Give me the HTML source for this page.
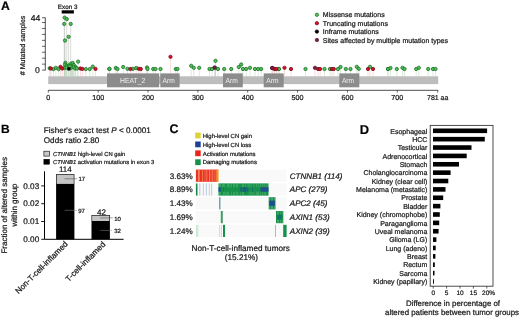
<!DOCTYPE html>
<html lang="en"><head><meta charset="utf-8"><title>Figure</title>
<style>
html,body{margin:0;padding:0;background:#fff;}
body{width:520px;height:318px;overflow:hidden;}
svg{display:block;filter:blur(0.35px);font-family:'Liberation Sans', Arial, sans-serif;}
text{stroke:#222;stroke-width:.22px;}
text[fill="#f2f2f2"]{stroke:none;}
</style></head><body>
<svg width="520" height="318" viewBox="0 0 520 318" font-family="Liberation Sans, Arial, sans-serif" text-rendering="geometricPrecision">
<rect width="520" height="318" fill="#fff"/>
<g id="panelA">
<text x="1.0" y="9.8" font-size="12.2" text-anchor="start" font-weight="bold" fill="#000">A</text>
<text x="67.6" y="8.9" font-size="6.3" text-anchor="middle" fill="#111">Exon 3</text>
<rect x="61.7" y="10.3" width="12.2" height="3.2" fill="#000"/>
<path d="M45.3 17.44V70.40" stroke="#222" stroke-width="0.8" fill="none"/>
<path d="M42 70.10H45.3" stroke="#222" stroke-width="0.7"/>
<path d="M42 64.15H45.3" stroke="#222" stroke-width="0.7"/>
<path d="M42 58.20H45.3" stroke="#222" stroke-width="0.7"/>
<path d="M42 52.25H45.3" stroke="#222" stroke-width="0.7"/>
<path d="M42 46.30H45.3" stroke="#222" stroke-width="0.7"/>
<path d="M42 40.35H45.3" stroke="#222" stroke-width="0.7"/>
<path d="M42 34.40H45.3" stroke="#222" stroke-width="0.7"/>
<path d="M42 28.45H45.3" stroke="#222" stroke-width="0.7"/>
<path d="M42 22.50H45.3" stroke="#222" stroke-width="0.7"/>
<path d="M42 17.74H45.3" stroke="#222" stroke-width="0.7"/>
<text x="40.3" y="21.2" font-size="8.6" text-anchor="end" fill="#111">44</text>
<text x="39.8" y="73.3" font-size="8.6" text-anchor="end" fill="#111">0</text>
<text transform="translate(24.7,45.4) rotate(-90)" font-size="7.05" text-anchor="middle" fill="#111"># Mutated samples</text>
<path d="M48.2 90.3H438.2" stroke="#222" stroke-width="0.8" fill="none"/>
<path d="M48.3 90.3V92.6" stroke="#222" stroke-width="0.7"/>
<path d="M98.2 90.3V92.6" stroke="#222" stroke-width="0.7"/>
<path d="M148.0 90.3V92.6" stroke="#222" stroke-width="0.7"/>
<path d="M197.9 90.3V92.6" stroke="#222" stroke-width="0.7"/>
<path d="M247.7 90.3V92.6" stroke="#222" stroke-width="0.7"/>
<path d="M297.6 90.3V92.6" stroke="#222" stroke-width="0.7"/>
<path d="M347.5 90.3V92.6" stroke="#222" stroke-width="0.7"/>
<path d="M397.3 90.3V92.6" stroke="#222" stroke-width="0.7"/>
<path d="M437.7 90.3V92.6" stroke="#222" stroke-width="0.7"/>
<text x="48.3" y="100.2" font-size="7.2" text-anchor="middle" fill="#111">0</text>
<text x="98.16" y="100.2" font-size="7.2" text-anchor="middle" fill="#111">100</text>
<text x="148.01999999999998" y="100.2" font-size="7.2" text-anchor="middle" fill="#111">200</text>
<text x="197.88" y="100.2" font-size="7.2" text-anchor="middle" fill="#111">300</text>
<text x="247.74" y="100.2" font-size="7.2" text-anchor="middle" fill="#111">400</text>
<text x="297.59999999999997" y="100.2" font-size="7.2" text-anchor="middle" fill="#111">500</text>
<text x="347.46" y="100.2" font-size="7.2" text-anchor="middle" fill="#111">600</text>
<text x="397.32" y="100.2" font-size="7.2" text-anchor="middle" fill="#111">700</text>
<text x="427" y="100.2" font-size="7.0" text-anchor="start" fill="#111">781 aa</text>
<rect x="48.2" y="76.3" width="390.0" height="7.8" fill="#bdbdbd"/>
<path d="M64.6 17.6V76.8" stroke="#b8bcb8" stroke-width="0.5"/>
<path d="M66.8 19.1V76.8" stroke="#b8bcb8" stroke-width="0.5"/>
<path d="M64.2 23.9V76.8" stroke="#b8bcb8" stroke-width="0.5"/>
<path d="M70.7 23.9V76.8" stroke="#b8bcb8" stroke-width="0.5"/>
<path d="M68.6 36.8V76.8" stroke="#b8bcb8" stroke-width="0.5"/>
<path d="M65.0 40.5V76.8" stroke="#b8bcb8" stroke-width="0.5"/>
<path d="M78.1 61.6V76.8" stroke="#b8bcb8" stroke-width="0.5"/>
<path d="M65.4 62.8V76.8" stroke="#b9d4b9" stroke-width="0.5"/>
<path d="M72.5 64.2V76.8" stroke="#b9d4b9" stroke-width="0.5"/>
<path d="M65.0 64.6V76.8" stroke="#b9d4b9" stroke-width="0.5"/>
<path d="M66.8 65.8V76.8" stroke="#b9d4b9" stroke-width="0.5"/>
<path d="M69.0 65.4V76.8" stroke="#b9d4b9" stroke-width="0.5"/>
<path d="M70.8 63.8V76.8" stroke="#b9d4b9" stroke-width="0.5"/>
<path d="M72.6 63.0V76.8" stroke="#b9d4b9" stroke-width="0.5"/>
<path d="M73.8 65.0V76.8" stroke="#b9d4b9" stroke-width="0.5"/>
<path d="M75.4 66.8V76.8" stroke="#b9d4b9" stroke-width="0.5"/>
<path d="M71.5 66.2V76.8" stroke="#b9d4b9" stroke-width="0.5"/>
<path d="M49.7 68.2V76.8" stroke="#b9d4b9" stroke-width="0.5"/>
<path d="M53.5 69.1V76.8" stroke="#b9d4b9" stroke-width="0.5"/>
<path d="M55.9 67.8V76.8" stroke="#b9d4b9" stroke-width="0.5"/>
<path d="M58.6 69.1V76.8" stroke="#b9d4b9" stroke-width="0.5"/>
<path d="M64.6 68.0V76.8" stroke="#b9d4b9" stroke-width="0.5"/>
<path d="M66.6 67.5V76.8" stroke="#b9d4b9" stroke-width="0.5"/>
<path d="M71.2 67.8V76.8" stroke="#b9d4b9" stroke-width="0.5"/>
<path d="M73.6 67.2V76.8" stroke="#b9d4b9" stroke-width="0.5"/>
<path d="M75.2 68.5V76.8" stroke="#b9d4b9" stroke-width="0.5"/>
<path d="M70.0 66.5V76.8" stroke="#b9d4b9" stroke-width="0.5"/>
<path d="M77.0 68.5V76.8" stroke="#b9d4b9" stroke-width="0.5"/>
<path d="M85.8 69.1V76.8" stroke="#b9d4b9" stroke-width="0.5"/>
<path d="M89.8 69.1V76.8" stroke="#b9d4b9" stroke-width="0.5"/>
<path d="M92.8 66.6V76.8" stroke="#b9d4b9" stroke-width="0.5"/>
<path d="M50.8 68.5V76.8" stroke="#f3b9bc" stroke-width="0.5"/>
<path d="M60.5 66.8V76.8" stroke="#f3b9bc" stroke-width="0.5"/>
<path d="M62.2 68.5V76.8" stroke="#f3b9bc" stroke-width="0.5"/>
<path d="M80.4 68.5V76.8" stroke="#f3b9bc" stroke-width="0.5"/>
<path d="M82.4 68.9V76.8" stroke="#f3b9bc" stroke-width="0.5"/>
<path d="M95.5 68.9V76.8" stroke="#f3b9bc" stroke-width="0.5"/>
<path d="M109.3 68.9V76.8" stroke="#b9d4b9" stroke-width="0.5"/>
<path d="M109.5 68.8V76.8" stroke="#b9d4b9" stroke-width="0.5"/>
<path d="M115.8 68.0V76.8" stroke="#b9d4b9" stroke-width="0.5"/>
<path d="M123.2 67.0V76.8" stroke="#b9d4b9" stroke-width="0.5"/>
<path d="M127.5 68.8V76.8" stroke="#b9d4b9" stroke-width="0.5"/>
<path d="M130.5 69.0V76.8" stroke="#f3b9bc" stroke-width="0.5"/>
<path d="M133.0 68.8V76.8" stroke="#b9d4b9" stroke-width="0.5"/>
<path d="M136.2 68.0V76.8" stroke="#b9d4b9" stroke-width="0.5"/>
<path d="M138.8 68.8V76.8" stroke="#f3b9bc" stroke-width="0.5"/>
<path d="M140.8 69.0V76.8" stroke="#f3b9bc" stroke-width="0.5"/>
<path d="M147.0 67.5V76.8" stroke="#b9d4b9" stroke-width="0.5"/>
<path d="M147.5 69.0V76.8" stroke="#b9d4b9" stroke-width="0.5"/>
<path d="M153.2 69.0V76.8" stroke="#b9d4b9" stroke-width="0.5"/>
<path d="M155.5 69.0V76.8" stroke="#b9d4b9" stroke-width="0.5"/>
<path d="M117.5 69.0V76.8" stroke="#b9d4b9" stroke-width="0.5"/>
<path d="M160.5 69.0V76.8" stroke="#b9d4b9" stroke-width="0.5"/>
<path d="M170.5 56.8V76.8" stroke="#f3b9bc" stroke-width="0.5"/>
<path d="M175.8 69.0V76.8" stroke="#b9d4b9" stroke-width="0.5"/>
<path d="M177.5 69.0V76.8" stroke="#b9d4b9" stroke-width="0.5"/>
<path d="M191.2 65.8V76.8" stroke="#b9d4b9" stroke-width="0.5"/>
<path d="M193.8 67.8V76.8" stroke="#b9d4b9" stroke-width="0.5"/>
<path d="M199.2 67.8V76.8" stroke="#b9d4b9" stroke-width="0.5"/>
<path d="M209.5 69.0V76.8" stroke="#b9d4b9" stroke-width="0.5"/>
<path d="M212.0 69.0V76.8" stroke="#b9d4b9" stroke-width="0.5"/>
<path d="M215.5 60.8V76.8" stroke="#b8bcb8" stroke-width="0.5"/>
<path d="M214.5 67.5V76.8" stroke="#d4b4c4" stroke-width="0.5"/>
<path d="M215.5 68.0V76.8" stroke="#b9d4b9" stroke-width="0.5"/>
<path d="M218.0 69.0V76.8" stroke="#b9d4b9" stroke-width="0.5"/>
<path d="M224.2 69.0V76.8" stroke="#b9d4b9" stroke-width="0.5"/>
<path d="M231.2 69.0V76.8" stroke="#b9d4b9" stroke-width="0.5"/>
<path d="M238.8 67.0V76.8" stroke="#b9d4b9" stroke-width="0.5"/>
<path d="M241.2 64.5V76.8" stroke="#b9d4b9" stroke-width="0.5"/>
<path d="M243.0 69.0V76.8" stroke="#b9d4b9" stroke-width="0.5"/>
<path d="M246.2 69.0V76.8" stroke="#b9d4b9" stroke-width="0.5"/>
<path d="M250.0 67.8V76.8" stroke="#b9d4b9" stroke-width="0.5"/>
<path d="M255.0 69.0V76.8" stroke="#b9d4b9" stroke-width="0.5"/>
<path d="M258.2 69.0V76.8" stroke="#b9d4b9" stroke-width="0.5"/>
<path d="M261.2 69.0V76.8" stroke="#b9d4b9" stroke-width="0.5"/>
<path d="M272.5 68.0V76.8" stroke="#d4b4c4" stroke-width="0.5"/>
<path d="M275.0 69.0V76.8" stroke="#b9d4b9" stroke-width="0.5"/>
<path d="M278.8 69.0V76.8" stroke="#b9d4b9" stroke-width="0.5"/>
<path d="M272.0 68.0V76.8" stroke="#d4b4c4" stroke-width="0.5"/>
<path d="M274.5 69.0V76.8" stroke="#f3b9bc" stroke-width="0.5"/>
<path d="M276.5 69.0V76.8" stroke="#f3b9bc" stroke-width="0.5"/>
<path d="M279.0 69.0V76.8" stroke="#b9d4b9" stroke-width="0.5"/>
<path d="M284.5 67.8V76.8" stroke="#f3b9bc" stroke-width="0.5"/>
<path d="M291.0 69.0V76.8" stroke="#f3b9bc" stroke-width="0.5"/>
<path d="M305.5 69.0V76.8" stroke="#b9d4b9" stroke-width="0.5"/>
<path d="M315.0 67.8V76.8" stroke="#d4b4c4" stroke-width="0.5"/>
<path d="M318.0 69.0V76.8" stroke="#f3b9bc" stroke-width="0.5"/>
<path d="M320.0 69.0V76.8" stroke="#f3b9bc" stroke-width="0.5"/>
<path d="M324.5 69.0V76.8" stroke="#b9d4b9" stroke-width="0.5"/>
<path d="M330.0 69.0V76.8" stroke="#b9d4b9" stroke-width="0.5"/>
<path d="M332.0 69.0V76.8" stroke="#f3b9bc" stroke-width="0.5"/>
<path d="M333.8 69.0V76.8" stroke="#f3b9bc" stroke-width="0.5"/>
<path d="M338.0 69.0V76.8" stroke="#b9d4b9" stroke-width="0.5"/>
<path d="M340.5 67.0V76.8" stroke="#b9d4b9" stroke-width="0.5"/>
<path d="M345.8 69.0V76.8" stroke="#b9d4b9" stroke-width="0.5"/>
<path d="M350.5 69.0V76.8" stroke="#b9d4b9" stroke-width="0.5"/>
<path d="M356.8 66.8V76.8" stroke="#b9d4b9" stroke-width="0.5"/>
<path d="M358.8 68.8V76.8" stroke="#b9d4b9" stroke-width="0.5"/>
<path d="M368.0 69.0V76.8" stroke="#f3b9bc" stroke-width="0.5"/>
<path d="M370.0 66.8V76.8" stroke="#b9d4b9" stroke-width="0.5"/>
<path d="M373.0 69.0V76.8" stroke="#f3b9bc" stroke-width="0.5"/>
<path d="M388.0 69.0V76.8" stroke="#b9d4b9" stroke-width="0.5"/>
<path d="M388.0 69.0V76.8" stroke="#b9d4b9" stroke-width="0.5"/>
<path d="M390.5 68.0V76.8" stroke="#b9d4b9" stroke-width="0.5"/>
<path d="M396.8 69.0V76.8" stroke="#b9d4b9" stroke-width="0.5"/>
<path d="M402.5 67.8V76.8" stroke="#b9d4b9" stroke-width="0.5"/>
<path d="M404.5 69.0V76.8" stroke="#b9d4b9" stroke-width="0.5"/>
<path d="M416.2 69.0V76.8" stroke="#b9d4b9" stroke-width="0.5"/>
<path d="M418.8 67.8V76.8" stroke="#b9d4b9" stroke-width="0.5"/>
<path d="M428.2 69.0V76.8" stroke="#b9d4b9" stroke-width="0.5"/>
<path d="M433.0 69.0V76.8" stroke="#b9d4b9" stroke-width="0.5"/>
<path d="M435.5 69.0V76.8" stroke="#b9d4b9" stroke-width="0.5"/>
<rect x="107" y="73.4" width="52.2" height="13.9" fill="#8c8c8c"/>
<text x="132.6" y="83.3" font-size="7.3" text-anchor="middle" textLength="25.2" lengthAdjust="spacingAndGlyphs" fill="#f2f2f2">HEAT_2</text>
<rect x="160.3" y="73.4" width="19.3" height="13.9" fill="#8c8c8c"/>
<text x="168.64999999999998" y="83.3" font-size="7.3" text-anchor="middle" textLength="12.2" lengthAdjust="spacingAndGlyphs" fill="#f2f2f2">Arm</text>
<rect x="223" y="73.4" width="19.8" height="13.9" fill="#8c8c8c"/>
<text x="231.6" y="83.3" font-size="7.3" text-anchor="middle" textLength="12.2" lengthAdjust="spacingAndGlyphs" fill="#f2f2f2">Arm</text>
<rect x="263.7" y="73.4" width="20.0" height="13.9" fill="#8c8c8c"/>
<text x="272.4" y="83.3" font-size="7.3" text-anchor="middle" textLength="12.2" lengthAdjust="spacingAndGlyphs" fill="#f2f2f2">Arm</text>
<rect x="339.3" y="73.4" width="20.0" height="13.9" fill="#8c8c8c"/>
<text x="348.0" y="83.3" font-size="7.3" text-anchor="middle" textLength="12.2" lengthAdjust="spacingAndGlyphs" fill="#f2f2f2">Arm</text>
<circle cx="64.6" cy="17.6" r="1.65" fill="#54c058" stroke="#1b6e28" stroke-width="0.8"/>
<circle cx="66.8" cy="19.1" r="1.65" fill="#54c058" stroke="#1b6e28" stroke-width="0.8"/>
<circle cx="64.2" cy="23.9" r="1.65" fill="#54c058" stroke="#1b6e28" stroke-width="0.8"/>
<circle cx="70.7" cy="23.9" r="1.65" fill="#54c058" stroke="#1b6e28" stroke-width="0.8"/>
<circle cx="68.6" cy="36.8" r="1.65" fill="#54c058" stroke="#1b6e28" stroke-width="0.8"/>
<circle cx="65.0" cy="40.5" r="1.65" fill="#54c058" stroke="#1b6e28" stroke-width="0.8"/>
<circle cx="78.1" cy="61.6" r="1.65" fill="#54c058" stroke="#1b6e28" stroke-width="0.8"/>
<circle cx="65.4" cy="62.8" r="1.65" fill="#54c058" stroke="#1b6e28" stroke-width="0.8"/>
<circle cx="72.5" cy="64.2" r="1.65" fill="#54c058" stroke="#1b6e28" stroke-width="0.8"/>
<circle cx="65.0" cy="64.6" r="1.65" fill="#54c058" stroke="#1b6e28" stroke-width="0.8"/>
<circle cx="66.8" cy="65.8" r="1.65" fill="#54c058" stroke="#1b6e28" stroke-width="0.8"/>
<circle cx="69.0" cy="65.4" r="1.65" fill="#54c058" stroke="#1b6e28" stroke-width="0.8"/>
<circle cx="70.8" cy="63.8" r="1.65" fill="#54c058" stroke="#1b6e28" stroke-width="0.8"/>
<circle cx="72.6" cy="63.0" r="1.65" fill="#54c058" stroke="#1b6e28" stroke-width="0.8"/>
<circle cx="73.8" cy="65.0" r="1.65" fill="#54c058" stroke="#1b6e28" stroke-width="0.8"/>
<circle cx="75.4" cy="66.8" r="1.65" fill="#54c058" stroke="#1b6e28" stroke-width="0.8"/>
<circle cx="71.5" cy="66.2" r="1.65" fill="#54c058" stroke="#1b6e28" stroke-width="0.8"/>
<circle cx="49.7" cy="68.2" r="1.65" fill="#54c058" stroke="#1b6e28" stroke-width="0.8"/>
<circle cx="53.5" cy="69.1" r="1.65" fill="#54c058" stroke="#1b6e28" stroke-width="0.8"/>
<circle cx="55.9" cy="67.8" r="1.65" fill="#54c058" stroke="#1b6e28" stroke-width="0.8"/>
<circle cx="58.6" cy="69.1" r="1.65" fill="#54c058" stroke="#1b6e28" stroke-width="0.8"/>
<circle cx="64.6" cy="68.0" r="1.65" fill="#54c058" stroke="#1b6e28" stroke-width="0.8"/>
<circle cx="66.6" cy="67.5" r="1.65" fill="#54c058" stroke="#1b6e28" stroke-width="0.8"/>
<circle cx="71.2" cy="67.8" r="1.65" fill="#54c058" stroke="#1b6e28" stroke-width="0.8"/>
<circle cx="73.6" cy="67.2" r="1.65" fill="#54c058" stroke="#1b6e28" stroke-width="0.8"/>
<circle cx="75.2" cy="68.5" r="1.65" fill="#54c058" stroke="#1b6e28" stroke-width="0.8"/>
<circle cx="70.0" cy="66.5" r="1.65" fill="#54c058" stroke="#1b6e28" stroke-width="0.8"/>
<circle cx="77.0" cy="68.5" r="1.65" fill="#54c058" stroke="#1b6e28" stroke-width="0.8"/>
<circle cx="85.8" cy="69.1" r="1.65" fill="#54c058" stroke="#1b6e28" stroke-width="0.8"/>
<circle cx="89.8" cy="69.1" r="1.65" fill="#54c058" stroke="#1b6e28" stroke-width="0.8"/>
<circle cx="92.8" cy="66.6" r="1.65" fill="#54c058" stroke="#1b6e28" stroke-width="0.8"/>
<circle cx="109.3" cy="68.9" r="1.65" fill="#54c058" stroke="#1b6e28" stroke-width="0.8"/>
<circle cx="109.5" cy="68.8" r="1.65" fill="#54c058" stroke="#1b6e28" stroke-width="0.8"/>
<circle cx="115.8" cy="68.0" r="1.65" fill="#54c058" stroke="#1b6e28" stroke-width="0.8"/>
<circle cx="123.2" cy="67.0" r="1.65" fill="#54c058" stroke="#1b6e28" stroke-width="0.8"/>
<circle cx="127.5" cy="68.8" r="1.65" fill="#54c058" stroke="#1b6e28" stroke-width="0.8"/>
<circle cx="133.0" cy="68.8" r="1.65" fill="#54c058" stroke="#1b6e28" stroke-width="0.8"/>
<circle cx="136.2" cy="68.0" r="1.65" fill="#54c058" stroke="#1b6e28" stroke-width="0.8"/>
<circle cx="147.0" cy="67.5" r="1.65" fill="#54c058" stroke="#1b6e28" stroke-width="0.8"/>
<circle cx="147.5" cy="69.0" r="1.65" fill="#54c058" stroke="#1b6e28" stroke-width="0.8"/>
<circle cx="153.2" cy="69.0" r="1.65" fill="#54c058" stroke="#1b6e28" stroke-width="0.8"/>
<circle cx="155.5" cy="69.0" r="1.65" fill="#54c058" stroke="#1b6e28" stroke-width="0.8"/>
<circle cx="117.5" cy="69.0" r="1.65" fill="#54c058" stroke="#1b6e28" stroke-width="0.8"/>
<circle cx="160.5" cy="69.0" r="1.65" fill="#54c058" stroke="#1b6e28" stroke-width="0.8"/>
<circle cx="175.8" cy="69.0" r="1.65" fill="#54c058" stroke="#1b6e28" stroke-width="0.8"/>
<circle cx="177.5" cy="69.0" r="1.65" fill="#54c058" stroke="#1b6e28" stroke-width="0.8"/>
<circle cx="191.2" cy="65.8" r="1.65" fill="#54c058" stroke="#1b6e28" stroke-width="0.8"/>
<circle cx="193.8" cy="67.8" r="1.65" fill="#54c058" stroke="#1b6e28" stroke-width="0.8"/>
<circle cx="199.2" cy="67.8" r="1.65" fill="#54c058" stroke="#1b6e28" stroke-width="0.8"/>
<circle cx="209.5" cy="69.0" r="1.65" fill="#54c058" stroke="#1b6e28" stroke-width="0.8"/>
<circle cx="212.0" cy="69.0" r="1.65" fill="#54c058" stroke="#1b6e28" stroke-width="0.8"/>
<circle cx="215.5" cy="60.8" r="1.65" fill="#54c058" stroke="#1b6e28" stroke-width="0.8"/>
<circle cx="215.5" cy="68.0" r="1.65" fill="#54c058" stroke="#1b6e28" stroke-width="0.8"/>
<circle cx="218.0" cy="69.0" r="1.65" fill="#54c058" stroke="#1b6e28" stroke-width="0.8"/>
<circle cx="224.2" cy="69.0" r="1.65" fill="#54c058" stroke="#1b6e28" stroke-width="0.8"/>
<circle cx="231.2" cy="69.0" r="1.65" fill="#54c058" stroke="#1b6e28" stroke-width="0.8"/>
<circle cx="238.8" cy="67.0" r="1.65" fill="#54c058" stroke="#1b6e28" stroke-width="0.8"/>
<circle cx="241.2" cy="64.5" r="1.65" fill="#54c058" stroke="#1b6e28" stroke-width="0.8"/>
<circle cx="243.0" cy="69.0" r="1.65" fill="#54c058" stroke="#1b6e28" stroke-width="0.8"/>
<circle cx="246.2" cy="69.0" r="1.65" fill="#54c058" stroke="#1b6e28" stroke-width="0.8"/>
<circle cx="250.0" cy="67.8" r="1.65" fill="#54c058" stroke="#1b6e28" stroke-width="0.8"/>
<circle cx="255.0" cy="69.0" r="1.65" fill="#54c058" stroke="#1b6e28" stroke-width="0.8"/>
<circle cx="258.2" cy="69.0" r="1.65" fill="#54c058" stroke="#1b6e28" stroke-width="0.8"/>
<circle cx="261.2" cy="69.0" r="1.65" fill="#54c058" stroke="#1b6e28" stroke-width="0.8"/>
<circle cx="275.0" cy="69.0" r="1.65" fill="#54c058" stroke="#1b6e28" stroke-width="0.8"/>
<circle cx="278.8" cy="69.0" r="1.65" fill="#54c058" stroke="#1b6e28" stroke-width="0.8"/>
<circle cx="279.0" cy="69.0" r="1.65" fill="#54c058" stroke="#1b6e28" stroke-width="0.8"/>
<circle cx="305.5" cy="69.0" r="1.65" fill="#54c058" stroke="#1b6e28" stroke-width="0.8"/>
<circle cx="324.5" cy="69.0" r="1.65" fill="#54c058" stroke="#1b6e28" stroke-width="0.8"/>
<circle cx="330.0" cy="69.0" r="1.65" fill="#54c058" stroke="#1b6e28" stroke-width="0.8"/>
<circle cx="338.0" cy="69.0" r="1.65" fill="#54c058" stroke="#1b6e28" stroke-width="0.8"/>
<circle cx="340.5" cy="67.0" r="1.65" fill="#54c058" stroke="#1b6e28" stroke-width="0.8"/>
<circle cx="345.8" cy="69.0" r="1.65" fill="#54c058" stroke="#1b6e28" stroke-width="0.8"/>
<circle cx="350.5" cy="69.0" r="1.65" fill="#54c058" stroke="#1b6e28" stroke-width="0.8"/>
<circle cx="356.8" cy="66.8" r="1.65" fill="#54c058" stroke="#1b6e28" stroke-width="0.8"/>
<circle cx="358.8" cy="68.8" r="1.65" fill="#54c058" stroke="#1b6e28" stroke-width="0.8"/>
<circle cx="370.0" cy="66.8" r="1.65" fill="#54c058" stroke="#1b6e28" stroke-width="0.8"/>
<circle cx="388.0" cy="69.0" r="1.65" fill="#54c058" stroke="#1b6e28" stroke-width="0.8"/>
<circle cx="388.0" cy="69.0" r="1.65" fill="#54c058" stroke="#1b6e28" stroke-width="0.8"/>
<circle cx="390.5" cy="68.0" r="1.65" fill="#54c058" stroke="#1b6e28" stroke-width="0.8"/>
<circle cx="396.8" cy="69.0" r="1.65" fill="#54c058" stroke="#1b6e28" stroke-width="0.8"/>
<circle cx="402.5" cy="67.8" r="1.65" fill="#54c058" stroke="#1b6e28" stroke-width="0.8"/>
<circle cx="404.5" cy="69.0" r="1.65" fill="#54c058" stroke="#1b6e28" stroke-width="0.8"/>
<circle cx="416.2" cy="69.0" r="1.65" fill="#54c058" stroke="#1b6e28" stroke-width="0.8"/>
<circle cx="418.8" cy="67.8" r="1.65" fill="#54c058" stroke="#1b6e28" stroke-width="0.8"/>
<circle cx="428.2" cy="69.0" r="1.65" fill="#54c058" stroke="#1b6e28" stroke-width="0.8"/>
<circle cx="433.0" cy="69.0" r="1.65" fill="#54c058" stroke="#1b6e28" stroke-width="0.8"/>
<circle cx="435.5" cy="69.0" r="1.65" fill="#54c058" stroke="#1b6e28" stroke-width="0.8"/>
<circle cx="50.8" cy="68.5" r="1.65" fill="#d4122a" stroke="#7e0c18" stroke-width="0.8"/>
<circle cx="60.5" cy="66.8" r="1.65" fill="#d4122a" stroke="#7e0c18" stroke-width="0.8"/>
<circle cx="62.2" cy="68.5" r="1.65" fill="#d4122a" stroke="#7e0c18" stroke-width="0.8"/>
<circle cx="80.4" cy="68.5" r="1.65" fill="#d4122a" stroke="#7e0c18" stroke-width="0.8"/>
<circle cx="82.4" cy="68.9" r="1.65" fill="#d4122a" stroke="#7e0c18" stroke-width="0.8"/>
<circle cx="95.5" cy="68.9" r="1.65" fill="#d4122a" stroke="#7e0c18" stroke-width="0.8"/>
<circle cx="130.5" cy="69.0" r="1.65" fill="#d4122a" stroke="#7e0c18" stroke-width="0.8"/>
<circle cx="138.8" cy="68.8" r="1.65" fill="#d4122a" stroke="#7e0c18" stroke-width="0.8"/>
<circle cx="140.8" cy="69.0" r="1.65" fill="#d4122a" stroke="#7e0c18" stroke-width="0.8"/>
<circle cx="170.5" cy="56.8" r="1.65" fill="#d4122a" stroke="#7e0c18" stroke-width="0.8"/>
<circle cx="214.5" cy="67.5" r="1.65" fill="#7a1f4d" stroke="#4a1030" stroke-width="0.8"/>
<circle cx="272.5" cy="68.0" r="1.65" fill="#7a1f4d" stroke="#4a1030" stroke-width="0.8"/>
<circle cx="272.0" cy="68.0" r="1.65" fill="#7a1f4d" stroke="#4a1030" stroke-width="0.8"/>
<circle cx="274.5" cy="69.0" r="1.65" fill="#d4122a" stroke="#7e0c18" stroke-width="0.8"/>
<circle cx="276.5" cy="69.0" r="1.65" fill="#d4122a" stroke="#7e0c18" stroke-width="0.8"/>
<circle cx="284.5" cy="67.8" r="1.65" fill="#d4122a" stroke="#7e0c18" stroke-width="0.8"/>
<circle cx="291.0" cy="69.0" r="1.65" fill="#d4122a" stroke="#7e0c18" stroke-width="0.8"/>
<circle cx="315.0" cy="67.8" r="1.65" fill="#7a1f4d" stroke="#4a1030" stroke-width="0.8"/>
<circle cx="318.0" cy="69.0" r="1.65" fill="#d4122a" stroke="#7e0c18" stroke-width="0.8"/>
<circle cx="320.0" cy="69.0" r="1.65" fill="#d4122a" stroke="#7e0c18" stroke-width="0.8"/>
<circle cx="332.0" cy="69.0" r="1.65" fill="#d4122a" stroke="#7e0c18" stroke-width="0.8"/>
<circle cx="333.8" cy="69.0" r="1.65" fill="#d4122a" stroke="#7e0c18" stroke-width="0.8"/>
<circle cx="368.0" cy="69.0" r="1.65" fill="#d4122a" stroke="#7e0c18" stroke-width="0.8"/>
<circle cx="373.0" cy="69.0" r="1.65" fill="#d4122a" stroke="#7e0c18" stroke-width="0.8"/>
<rect x="67.3" y="67.3" width="3.2" height="3.2" fill="#000"/>
<circle cx="316.9" cy="14.8" r="1.7" fill="#54c058" stroke="#1b6e28" stroke-width="0.7"/>
<text x="322.8" y="17.3" font-size="7.0" text-anchor="start" fill="#111">Missense mutations</text>
<circle cx="316.9" cy="23.2" r="1.7" fill="#d4122a" stroke="#7e0c18" stroke-width="0.7"/>
<text x="322.8" y="25.700000000000003" font-size="7.0" text-anchor="start" fill="#111">Truncating mutations</text>
<circle cx="316.9" cy="31.6" r="1.7" fill="#000" stroke="#000" stroke-width="0.7"/>
<text x="322.8" y="34.1" font-size="7.0" text-anchor="start" fill="#111">Inframe mutations</text>
<circle cx="316.9" cy="40.0" r="1.7" fill="#7a1f4d" stroke="#4a1030" stroke-width="0.7"/>
<text x="322.8" y="42.5" font-size="7.0" text-anchor="start" fill="#111">Sites affected by multiple mutation types</text>
</g>
<g id="panelB">
<text x="1.0" y="133.3" font-size="12.0" text-anchor="start" font-weight="bold" fill="#000">B</text>
<text x="43.8" y="133.3" font-size="8.14" fill="#111">Fisher's exact test <tspan font-style="italic">P</tspan> &lt; 0.0001</text>
<text x="43.8" y="142.9" font-size="8.14" text-anchor="start" fill="#111">Odds ratio 2.80</text>
<rect x="43.9" y="151.2" width="5.5" height="4.9" fill="#c8c8c8" stroke="#000" stroke-width="0.6"/>
<rect x="43.9" y="159.3" width="5.5" height="4.9" fill="#000" stroke="#000" stroke-width="0.6"/>
<text x="53" y="155.7" font-size="5.8" fill="#111"><tspan font-style="italic">CTNNB1</tspan> high-level CN gain</text>
<text x="53" y="164" font-size="5.8" fill="#111"><tspan font-style="italic">CTNNB1</tspan> activation mutations in exon 3</text>
<path d="M44.5 171.3V239.3H123.6" stroke="#000" stroke-width="1" fill="none"/>
<path d="M41.2 239.3H44.5" stroke="#000" stroke-width="0.9"/>
<text x="39.2" y="241.9" font-size="8.2" text-anchor="end" fill="#111">0.00</text>
<path d="M41.2 221.5H44.5" stroke="#000" stroke-width="0.9"/>
<text x="39.2" y="224.1" font-size="8.2" text-anchor="end" fill="#111">0.01</text>
<path d="M41.2 203.7H44.5" stroke="#000" stroke-width="0.9"/>
<text x="39.2" y="206.3" font-size="8.2" text-anchor="end" fill="#111">0.02</text>
<path d="M41.2 185.9H44.5" stroke="#000" stroke-width="0.9"/>
<text x="39.2" y="188.5" font-size="8.2" text-anchor="end" fill="#111">0.03</text>
<rect x="56.1" y="174.1" width="18.3" height="65.2" fill="#000"/>
<rect x="56.7" y="174.7" width="17.1" height="9.2" fill="#c4c4c4"/>
<rect x="91.5" y="215" width="18.4" height="24.3" fill="#000"/>
<rect x="92.1" y="215.6" width="17.2" height="5.4" fill="#c4c4c4"/>
<text x="65.3" y="172.3" font-size="7.9" text-anchor="middle" fill="#111">114</text>
<text x="101.4" y="214.5" font-size="8.1" text-anchor="middle" fill="#111">42</text>
<path d="M64.6 178.8H77.1" stroke="#444" stroke-width="0.5"/>
<text x="78.4" y="181" font-size="6.0" text-anchor="start" fill="#111">17</text>
<path d="M64.6 210.3H77.1" stroke="#8a8a8a" stroke-width="0.5"/>
<text x="78.2" y="212.5" font-size="6.0" text-anchor="start" fill="#111">97</text>
<path d="M100.2 217.9H112.7" stroke="#444" stroke-width="0.5"/>
<text x="114.2" y="220.5" font-size="6.0" text-anchor="start" fill="#111">10</text>
<path d="M100.2 230.4H111.9" stroke="#8a8a8a" stroke-width="0.5"/>
<text x="114.2" y="232.6" font-size="6.0" text-anchor="start" fill="#111">32</text>
<text transform="translate(68.3,244.5) rotate(-45)" font-size="8.15" text-anchor="end" fill="#111">Non-T-cell-inflamed</text>
<text transform="translate(106.0,244.8) rotate(-45)" font-size="8.15" text-anchor="end" fill="#111">T-cell-inflamed</text>
<text transform="translate(7.2,205.3) rotate(-90)" font-size="8.0" text-anchor="middle" fill="#111">Fraction of altered samples</text>
<text transform="translate(16.8,205) rotate(-90)" font-size="8.0" text-anchor="middle" fill="#111">within group</text>
</g>
<g id="panelC">
<text x="169.5" y="133.2" font-size="12.5" text-anchor="start" font-weight="bold" fill="#000">C</text>
<rect x="195.2" y="132.6" width="5.5" height="5.8" fill="#d9d335"/>
<text x="202.8" y="137.7" font-size="5.9" text-anchor="start" fill="#111">High-level CN gain</text>
<rect x="195.2" y="141.5" width="5.5" height="5.8" fill="#1d3f94"/>
<text x="202.8" y="146.6" font-size="5.9" text-anchor="start" fill="#111">High-level CN loss</text>
<rect x="195.2" y="150.4" width="5.5" height="5.8" fill="#e8241d"/>
<text x="202.8" y="155.5" font-size="5.9" text-anchor="start" fill="#111">Activation mutations</text>
<rect x="195.2" y="159.3" width="5.5" height="5.8" fill="#15904a"/>
<text x="202.8" y="164.4" font-size="5.9" text-anchor="start" fill="#111">Damaging mutations</text>
<rect x="195.6" y="169.6" width="91.0" height="12.2" fill="#f9f9f9"/>
<text x="169.8" y="178.6" font-size="8.1" text-anchor="start" fill="#111">3.63%</text>
<text x="289.8" y="178.6" font-size="8.05" text-anchor="start" font-style="italic" fill="#111">CTNNB1 (114)</text>
<rect x="195.6" y="183.4" width="91.0" height="12.2" fill="#f9f9f9"/>
<text x="169.8" y="192.4" font-size="8.1" text-anchor="start" fill="#111">8.89%</text>
<text x="289.8" y="192.4" font-size="8.05" text-anchor="start" font-style="italic" fill="#111">APC (279)</text>
<rect x="195.6" y="197.2" width="91.0" height="12.2" fill="#f9f9f9"/>
<text x="169.8" y="206.2" font-size="8.1" text-anchor="start" fill="#111">1.43%</text>
<text x="289.8" y="206.2" font-size="8.05" text-anchor="start" font-style="italic" fill="#111">APC2 (45)</text>
<rect x="195.6" y="211.0" width="91.0" height="12.2" fill="#f9f9f9"/>
<text x="169.8" y="220.0" font-size="8.1" text-anchor="start" fill="#111">1.69%</text>
<text x="289.8" y="220.0" font-size="8.05" text-anchor="start" font-style="italic" fill="#111">AXIN1 (53)</text>
<rect x="195.6" y="224.8" width="91.0" height="12.2" fill="#f9f9f9"/>
<text x="169.8" y="233.8" font-size="8.1" text-anchor="start" fill="#111">1.24%</text>
<text x="289.8" y="233.8" font-size="8.05" text-anchor="start" font-style="italic" fill="#111">AXIN2 (39)</text>
<rect x="195.90" y="169.60" width="22.40" height="12.2" fill="#ea3222"/>
<rect x="198.00" y="169.60" width="1.70" height="12.2" fill="#f8845e"/>
<rect x="202.20" y="169.60" width="0.80" height="12.2" fill="#f8845e"/>
<rect x="204.10" y="169.60" width="0.30" height="12.2" fill="#f8845e"/>
<rect x="205.70" y="169.60" width="0.90" height="12.2" fill="#f8845e"/>
<rect x="207.50" y="169.60" width="0.30" height="12.2" fill="#f8845e"/>
<rect x="209.00" y="169.60" width="1.20" height="12.2" fill="#f8845e"/>
<rect x="211.00" y="169.60" width="0.30" height="12.2" fill="#f8845e"/>
<rect x="212.30" y="169.60" width="0.90" height="12.2" fill="#f8845e"/>
<rect x="214.20" y="169.60" width="0.40" height="12.2" fill="#f8845e"/>
<rect x="215.60" y="169.60" width="1.00" height="12.2" fill="#f07a30"/>
<rect x="216.60" y="169.60" width="1.00" height="12.2" fill="#f2a03a"/>
<rect x="217.60" y="169.60" width="0.90" height="12.2" fill="#ecc845"/>
<rect x="195.90" y="183.40" width="1.60" height="12.2" fill="#15924a"/>
<rect x="196.30" y="187.30" width="0.70" height="4.4" fill="#14706a"/>
<rect x="199.60" y="183.40" width="0.60" height="12.2" fill="#9a94cc"/>
<rect x="202.90" y="183.40" width="0.60" height="12.2" fill="#cf9cc8"/>
<rect x="205.90" y="183.40" width="0.60" height="12.2" fill="#86acd8"/>
<rect x="208.90" y="183.40" width="0.60" height="12.2" fill="#cf9cc8"/>
<rect x="211.50" y="183.40" width="0.60" height="12.2" fill="#74c0a8"/>
<rect x="218.50" y="183.40" width="50.00" height="12.2" fill="#15924a"/>
<rect x="219.20" y="183.70" width="0.40" height="3.6" fill="#6cc088"/>
<rect x="219.20" y="191.70" width="0.40" height="3.6" fill="#6cc088"/>
<rect x="220.30" y="183.70" width="0.40" height="3.6" fill="#6cc088"/>
<rect x="220.30" y="191.70" width="0.40" height="3.6" fill="#6cc088"/>
<rect x="222.20" y="183.70" width="0.40" height="3.6" fill="#6cc088"/>
<rect x="223.60" y="183.70" width="0.40" height="3.6" fill="#6cc088"/>
<rect x="223.60" y="191.70" width="0.40" height="3.6" fill="#6cc088"/>
<rect x="224.70" y="183.70" width="0.40" height="3.6" fill="#6cc088"/>
<rect x="224.70" y="191.70" width="0.40" height="3.6" fill="#6cc088"/>
<rect x="225.80" y="191.70" width="0.40" height="3.6" fill="#6cc088"/>
<rect x="227.20" y="183.70" width="0.40" height="3.6" fill="#6cc088"/>
<rect x="227.20" y="191.70" width="0.40" height="3.6" fill="#6cc088"/>
<rect x="228.30" y="183.70" width="0.40" height="3.6" fill="#6cc088"/>
<rect x="228.30" y="191.70" width="0.40" height="3.6" fill="#6cc088"/>
<rect x="229.70" y="183.70" width="0.40" height="3.6" fill="#6cc088"/>
<rect x="231.60" y="183.70" width="0.40" height="3.6" fill="#6cc088"/>
<rect x="231.60" y="191.70" width="0.40" height="3.6" fill="#6cc088"/>
<rect x="233.50" y="183.70" width="0.40" height="3.6" fill="#6cc088"/>
<rect x="233.50" y="191.70" width="0.40" height="3.6" fill="#6cc088"/>
<rect x="234.60" y="183.70" width="0.40" height="3.6" fill="#6cc088"/>
<rect x="234.60" y="191.70" width="0.40" height="3.6" fill="#6cc088"/>
<rect x="236.50" y="183.70" width="0.40" height="3.6" fill="#6cc088"/>
<rect x="236.50" y="191.70" width="0.40" height="3.6" fill="#6cc088"/>
<rect x="237.60" y="183.70" width="0.40" height="3.6" fill="#6cc088"/>
<rect x="237.60" y="191.70" width="0.40" height="3.6" fill="#6cc088"/>
<rect x="239.90" y="191.70" width="0.40" height="3.6" fill="#6cc088"/>
<rect x="242.20" y="183.70" width="0.40" height="3.6" fill="#6cc088"/>
<rect x="242.20" y="191.70" width="0.40" height="3.6" fill="#6cc088"/>
<rect x="243.60" y="183.70" width="0.40" height="3.6" fill="#6cc088"/>
<rect x="243.60" y="191.70" width="0.40" height="3.6" fill="#6cc088"/>
<rect x="245.50" y="183.70" width="0.40" height="3.6" fill="#6cc088"/>
<rect x="247.80" y="183.70" width="0.40" height="3.6" fill="#6cc088"/>
<rect x="248.90" y="183.70" width="0.40" height="3.6" fill="#6cc088"/>
<rect x="248.90" y="191.70" width="0.40" height="3.6" fill="#6cc088"/>
<rect x="250.80" y="183.70" width="0.40" height="3.6" fill="#6cc088"/>
<rect x="250.80" y="191.70" width="0.40" height="3.6" fill="#6cc088"/>
<rect x="251.90" y="191.70" width="0.40" height="3.6" fill="#6cc088"/>
<rect x="253.80" y="183.70" width="0.40" height="3.6" fill="#6cc088"/>
<rect x="253.80" y="191.70" width="0.40" height="3.6" fill="#6cc088"/>
<rect x="256.10" y="183.70" width="0.40" height="3.6" fill="#6cc088"/>
<rect x="256.10" y="191.70" width="0.40" height="3.6" fill="#6cc088"/>
<rect x="257.20" y="191.70" width="0.40" height="3.6" fill="#6cc088"/>
<rect x="258.30" y="183.70" width="0.40" height="3.6" fill="#6cc088"/>
<rect x="258.30" y="191.70" width="0.40" height="3.6" fill="#6cc088"/>
<rect x="260.60" y="183.70" width="0.40" height="3.6" fill="#6cc088"/>
<rect x="260.60" y="191.70" width="0.40" height="3.6" fill="#6cc088"/>
<rect x="262.50" y="183.70" width="0.40" height="3.6" fill="#6cc088"/>
<rect x="262.50" y="191.70" width="0.40" height="3.6" fill="#6cc088"/>
<rect x="263.90" y="183.70" width="0.40" height="3.6" fill="#6cc088"/>
<rect x="263.90" y="191.70" width="0.40" height="3.6" fill="#6cc088"/>
<rect x="265.30" y="191.70" width="0.40" height="3.6" fill="#6cc088"/>
<rect x="266.70" y="183.70" width="0.40" height="3.6" fill="#6cc088"/>
<rect x="218.50" y="187.30" width="2.30" height="4.4" fill="#1f4f8f"/>
<rect x="223.40" y="187.30" width="0.60" height="4.4" fill="#14706a"/>
<rect x="239.80" y="187.30" width="8.60" height="4.4" fill="#14706a"/>
<rect x="243.00" y="187.30" width="3.00" height="4.4" fill="#1a5f7f"/>
<rect x="260.60" y="187.30" width="7.90" height="4.4" fill="#1f4f8f"/>
<rect x="252.00" y="187.30" width="1.00" height="4.4" fill="#14706a"/>
<rect x="219.00" y="197.20" width="0.50" height="12.2" fill="#8fcfa8"/>
<rect x="219.50" y="197.20" width="0.80" height="12.2" fill="#14706a"/>
<rect x="268.70" y="197.20" width="6.80" height="12.2" fill="#1a8f4e"/>
<rect x="269.60" y="197.50" width="0.40" height="3.2" fill="#7cc795"/>
<rect x="269.60" y="205.90" width="0.40" height="3.2" fill="#7cc795"/>
<rect x="271.00" y="197.50" width="0.40" height="3.2" fill="#7cc795"/>
<rect x="271.00" y="205.90" width="0.40" height="3.2" fill="#7cc795"/>
<rect x="272.60" y="197.50" width="0.40" height="3.2" fill="#7cc795"/>
<rect x="272.60" y="205.90" width="0.40" height="3.2" fill="#7cc795"/>
<rect x="274.20" y="197.50" width="0.40" height="3.2" fill="#7cc795"/>
<rect x="274.20" y="205.90" width="0.40" height="3.2" fill="#7cc795"/>
<rect x="269.40" y="200.70" width="5.40" height="5.2" fill="#1f4f8f"/>
<rect x="220.50" y="211.00" width="0.80" height="12.2" fill="#9fd4ae"/>
<rect x="221.30" y="211.00" width="1.30" height="12.2" fill="#0c7a3e"/>
<rect x="276.00" y="211.00" width="7.30" height="12.2" fill="#15924a"/>
<rect x="277.00" y="211.30" width="0.40" height="3.2" fill="#7cc795"/>
<rect x="277.00" y="219.70" width="0.40" height="3.2" fill="#7cc795"/>
<rect x="278.60" y="211.30" width="0.40" height="3.2" fill="#7cc795"/>
<rect x="278.60" y="219.70" width="0.40" height="3.2" fill="#7cc795"/>
<rect x="280.40" y="211.30" width="0.40" height="3.2" fill="#7cc795"/>
<rect x="280.40" y="219.70" width="0.40" height="3.2" fill="#7cc795"/>
<rect x="282.00" y="211.30" width="0.40" height="3.2" fill="#7cc795"/>
<rect x="282.00" y="219.70" width="0.40" height="3.2" fill="#7cc795"/>
<rect x="277.60" y="214.80" width="4.00" height="4.6" fill="#14706a"/>
<rect x="196.00" y="224.80" width="0.50" height="12.2" fill="#9fd4ae"/>
<rect x="197.60" y="224.80" width="0.60" height="12.2" fill="#9fd4ae"/>
<rect x="219.50" y="224.80" width="0.60" height="12.2" fill="#9fd4ae"/>
<rect x="221.20" y="224.80" width="0.60" height="12.2" fill="#9fd4ae"/>
<rect x="223.00" y="224.80" width="2.00" height="12.2" fill="#15924a"/>
<rect x="275.20" y="224.80" width="0.60" height="12.2" fill="#6f8fbf"/>
<rect x="283.20" y="224.80" width="3.40" height="12.2" fill="#15924a"/>
<text x="240.7" y="250.6" font-size="8.2" text-anchor="middle" fill="#111">Non-T-cell-inflamed tumors</text>
<text x="241.4" y="260.1" font-size="8.2" text-anchor="middle" fill="#111">(15.21%)</text>
</g>
<g id="panelD">
<text x="359.8" y="134" font-size="12.9" text-anchor="start" font-weight="bold" fill="#000">D</text>
<rect x="430.2" y="125.4" width="62.8" height="160.8" fill="#fff" stroke="#3a3a3a" stroke-width="0.9"/>
<text x="427.3" y="133.5" font-size="7.0" text-anchor="end" fill="#111">Esophageal</text>
<rect x="433" y="128.50" width="54.1" height="4.6" fill="#000"/>
<text x="427.3" y="141.87" font-size="7.0" text-anchor="end" fill="#111">HCC</text>
<rect x="433" y="136.87" width="51.8" height="4.6" fill="#000"/>
<text x="427.3" y="150.24" font-size="7.0" text-anchor="end" fill="#111">Testicular</text>
<rect x="433" y="145.24" width="38.5" height="4.6" fill="#000"/>
<text x="427.3" y="158.60999999999999" font-size="7.0" text-anchor="end" fill="#111">Adrenocortical</text>
<rect x="433" y="153.61" width="33.7" height="4.6" fill="#000"/>
<text x="427.3" y="166.98" font-size="7.0" text-anchor="end" fill="#111">Stomach</text>
<rect x="433" y="161.98" width="26.0" height="4.6" fill="#000"/>
<text x="427.3" y="175.35" font-size="7.0" text-anchor="end" fill="#111">Cholangiocarcinoma</text>
<rect x="433" y="170.35" width="17.6" height="4.6" fill="#000"/>
<text x="427.3" y="183.72" font-size="7.0" text-anchor="end" fill="#111">Kidney (clear cell)</text>
<rect x="433" y="178.72" width="15.3" height="4.6" fill="#000"/>
<text x="427.3" y="192.09" font-size="7.0" text-anchor="end" fill="#111">Melanoma (metastatic)</text>
<rect x="433" y="187.09" width="12.5" height="4.6" fill="#000"/>
<text x="427.3" y="200.46" font-size="7.0" text-anchor="end" fill="#111">Prostate</text>
<rect x="433" y="195.46" width="10.2" height="4.6" fill="#000"/>
<text x="427.3" y="208.83" font-size="7.0" text-anchor="end" fill="#111">Bladder</text>
<rect x="433" y="203.83" width="7.4" height="4.6" fill="#000"/>
<text x="427.3" y="217.2" font-size="7.0" text-anchor="end" fill="#111">Kidney (chromophobe)</text>
<rect x="433" y="212.20" width="6.8" height="4.6" fill="#000"/>
<text x="427.3" y="225.57" font-size="7.0" text-anchor="end" fill="#111">Paraganglioma</text>
<rect x="433" y="220.57" width="6.2" height="4.6" fill="#000"/>
<text x="427.3" y="233.94" font-size="7.0" text-anchor="end" fill="#111">Uveal melanoma</text>
<rect x="433" y="228.94" width="5.6" height="4.6" fill="#000"/>
<text x="427.3" y="242.30999999999997" font-size="7.0" text-anchor="end" fill="#111">Glioma (LG)</text>
<rect x="433" y="237.31" width="3.4" height="4.6" fill="#000"/>
<text x="427.3" y="250.67999999999998" font-size="7.0" text-anchor="end" fill="#111">Lung (adeno)</text>
<rect x="433" y="245.68" width="2.7" height="4.6" fill="#000"/>
<text x="427.3" y="259.04999999999995" font-size="7.0" text-anchor="end" fill="#111">Breast</text>
<rect x="433" y="254.05" width="2.4" height="4.6" fill="#000"/>
<text x="427.3" y="267.41999999999996" font-size="7.0" text-anchor="end" fill="#111">Rectum</text>
<rect x="433" y="262.42" width="1.8" height="4.6" fill="#000"/>
<text x="427.3" y="275.78999999999996" font-size="7.0" text-anchor="end" fill="#111">Sarcoma</text>
<rect x="433" y="270.79" width="1.5" height="4.6" fill="#000"/>
<text x="427.3" y="284.15999999999997" font-size="7.0" text-anchor="end" fill="#111">Kidney (papillary)</text>
<rect x="433" y="279.16" width="0.9" height="4.6" fill="#000"/>
<path d="M433.2 286.2V288.6" stroke="#222" stroke-width="0.7"/>
<text x="433.2" y="295.2" font-size="6.5" text-anchor="middle" fill="#111">0</text>
<path d="M446.6 286.2V288.6" stroke="#222" stroke-width="0.7"/>
<text x="446.59999999999997" y="295.2" font-size="6.5" text-anchor="middle" fill="#111">5</text>
<path d="M460.0 286.2V288.6" stroke="#222" stroke-width="0.7"/>
<text x="460.0" y="295.2" font-size="6.5" text-anchor="middle" fill="#111">10</text>
<path d="M473.4 286.2V288.6" stroke="#222" stroke-width="0.7"/>
<text x="473.4" y="295.2" font-size="6.5" text-anchor="middle" fill="#111">15</text>
<path d="M486.8 286.2V288.6" stroke="#222" stroke-width="0.7"/>
<text x="488.6" y="295.2" font-size="6.5" text-anchor="middle" fill="#111">20%</text>
<text x="453" y="305.8" font-size="7.85" text-anchor="middle" fill="#111">Difference in percentage of</text>
<text x="452" y="315.3" font-size="7.85" text-anchor="middle" fill="#111">altered patients between tumor groups</text>
</g>
</svg>
</body></html>
